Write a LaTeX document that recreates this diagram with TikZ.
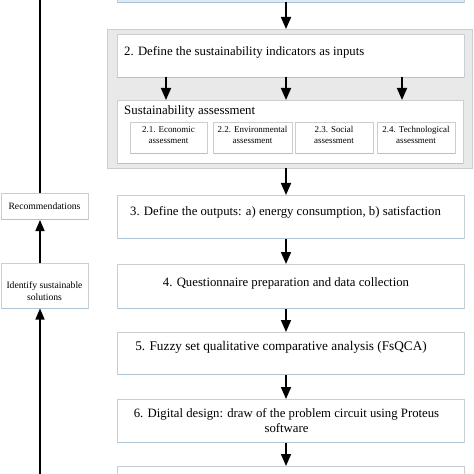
\documentclass[tikz,border=0pt]{standalone}
\usepackage{fontspec}
\setmainfont{Liberation Serif}
\usetikzlibrary{arrows.meta}
\definecolor{bordc}{HTML}{C9CED3}
\definecolor{shadc}{HTML}{AFC3D6}
\definecolor{grayfill}{HTML}{E9E9E9}
\definecolor{grayline}{HTML}{CDCDCD}
\definecolor{topblue}{HTML}{DCEAF4}
\tikzset{
  x=1bp, y=-1bp,
  stepbox/.style={draw=bordc, fill=white, line width=0.8bp, inner sep=0pt, anchor=north west},
  subbox/.style={draw=bordc, fill=white, line width=0.6bp, inner sep=0pt, anchor=north west, align=center, font=\fontsize{9}{10.5}\selectfont},
  mainfont/.style={font=\fontsize{12.8}{15}\selectfont},
  arr/.style={-{Triangle[width=10bp,length=12bp]}, line width=1.7bp, black},
  sidearr/.style={-{Triangle[width=9bp,length=11bp]}, line width=1.3bp, black},
  sidebox/.style={draw=bordc, fill=white, line width=0.8bp, inner sep=0pt, anchor=north west, align=center},
  sidefont/.style={font=\fontsize{9.7}{12}\selectfont},
}
\begin{document}
\begin{tikzpicture}
\useasboundingbox (0,0) rectangle (474,474);
% top box (cut)
\node[stepbox, fill=topblue, minimum width=347bp, minimum height=20bp] (b1) at (117,-18) {};
\draw[shadc, line width=1bp] (117.5,2.5) -- (463.5,2.5);
% grey container
\node[draw=grayline, fill=grayfill, line width=0.8bp, inner sep=0pt, anchor=north west, minimum width=365bp, minimum height=139bp] (cont) at (107,29) {};
% box 2
\node[stepbox, minimum width=347bp, minimum height=43bp] (b2) at (117,34) {};
\node[mainfont, anchor=west, inner sep=0pt] (t2) at (124,52) {2. Define the sustainability indicators as inputs};
\draw[shadc, line width=0.8bp] (117.5,77.5) -- (463.5,77.5);
% sustainability assessment
\node[stepbox, minimum width=346bp, minimum height=63bp] (sa) at (117,100) {};
\node[font=\fontsize{12.9}{15}\selectfont, anchor=west, inner sep=0pt] (sat) at (124,111) {Sustainability assessment};
\draw[shadc, line width=0.8bp] (117.5,163.5) -- (462.5,163.5);
\node[subbox, minimum width=77bp, minimum height=31bp] (s1) at (130,122) {};
\node[subbox, minimum width=79bp, minimum height=31bp] (s2) at (213,122) {};
\node[subbox, minimum width=78bp, minimum height=31bp] (s3) at (295,122) {};
\node[subbox, minimum width=78bp, minimum height=31bp] (s4) at (377,122) {};
\node[subbox, draw=none, fill=none, anchor=center] (s1t) at (168.5,135) {2.1. Economic\\assessment};
\node[subbox, draw=none, fill=none, anchor=center] (s2t) at (252.5,135) {2.2. Environmental\\assessment};
\node[subbox, draw=none, fill=none, anchor=center] (s3t) at (334,135) {2.3. Social\\assessment};
\node[subbox, draw=none, fill=none, anchor=center] (s4t) at (416,135) {2.4. Technological\\assessment};
\foreach \n/\l/\r in {s1/130/207,s2/213/292,s3/295/373,s4/377/455}
  \draw[shadc, line width=0.8bp] (\l+0.5,153.5) -- (\r-0.5,153.5);
% box 3
\node[stepbox, minimum width=347bp, minimum height=43bp] (b3) at (117,195) {};
\node[mainfont, inner sep=0pt] (t3) at (285.5,212) {3. Define the outputs: a) energy consumption, b) satisfaction};
\draw[shadc, line width=0.8bp] (117.5,238.5) -- (463.5,238.5);
% box 4
\node[stepbox, minimum width=347bp, minimum height=44bp] (b4) at (117,264) {};
\node[mainfont, inner sep=0pt] (t4) at (286,283) {4. Questionnaire preparation and data collection};
\draw[shadc, line width=0.8bp] (117.5,308.5) -- (463.5,308.5);
% box 5
\node[stepbox, minimum width=347bp, minimum height=42bp] (b5) at (117,332) {};
\node[font=\fontsize{13.3}{15}\selectfont, inner sep=0pt] (t5) at (281,347) {5. Fuzzy set qualitative comparative analysis (FsQCA)};
\draw[shadc, line width=0.8bp] (117.5,374.5) -- (463.5,374.5);
% box 6
\node[stepbox, minimum width=347bp, minimum height=43bp] (b6) at (117,399) {};
\node[mainfont, inner sep=0pt, align=center] (t6) at (286.5,420.5) {6. Digital design: draw of the problem circuit using Proteus\\software};
\draw[shadc, line width=0.8bp] (117.5,442.5) -- (463.5,442.5);
% box 7 (cut)
\node[stepbox, minimum width=347bp, minimum height=20bp] (b7) at (117,466) {};
% side boxes
\node[sidebox, minimum width=87bp, minimum height=26bp] (rec) at (1,193) {};
\node[sidefont, inner sep=0pt] (rect) at (44.5,206) {Recommendations};
\draw[shadc, line width=0.8bp] (1.5,219.5) -- (87.5,219.5);
\node[sidebox, minimum width=87bp, minimum height=45bp] (ide) at (1,263) {};
\node[sidefont, inner sep=0pt, align=center] (idet) at (44.5,291) {Identify sustainable\\solutions};
\draw[shadc, line width=0.8bp] (1.5,308.5) -- (87.5,308.5);
% arrows main
\coordinate (c1) at (286,2);
\draw[arr] (c1) -- (286,29);
\draw[arr] (166,77) -- (166,100);
\draw[arr] (286,77) -- (286,100);
\draw[arr] (402,77) -- (402,100);
\draw[arr] (286,168) -- (b3.north -| 286,0);
\draw[arr] (286,239) -- (286,264);
\draw[arr] (286,309) -- (286,332);
\draw[arr] (286,375) -- (286,399);
\draw[arr] (286,443) -- (286,466);
% side
\coordinate (bot) at (40,474);
\coordinate (topc) at (40,0);
\draw[sidearr] (bot) -- (40,308.5);
\draw[sidearr] (40,263) -- (40,220);
\draw[line width=1.3bp] (40,193) -- (topc);
\end{tikzpicture}
\end{document}
